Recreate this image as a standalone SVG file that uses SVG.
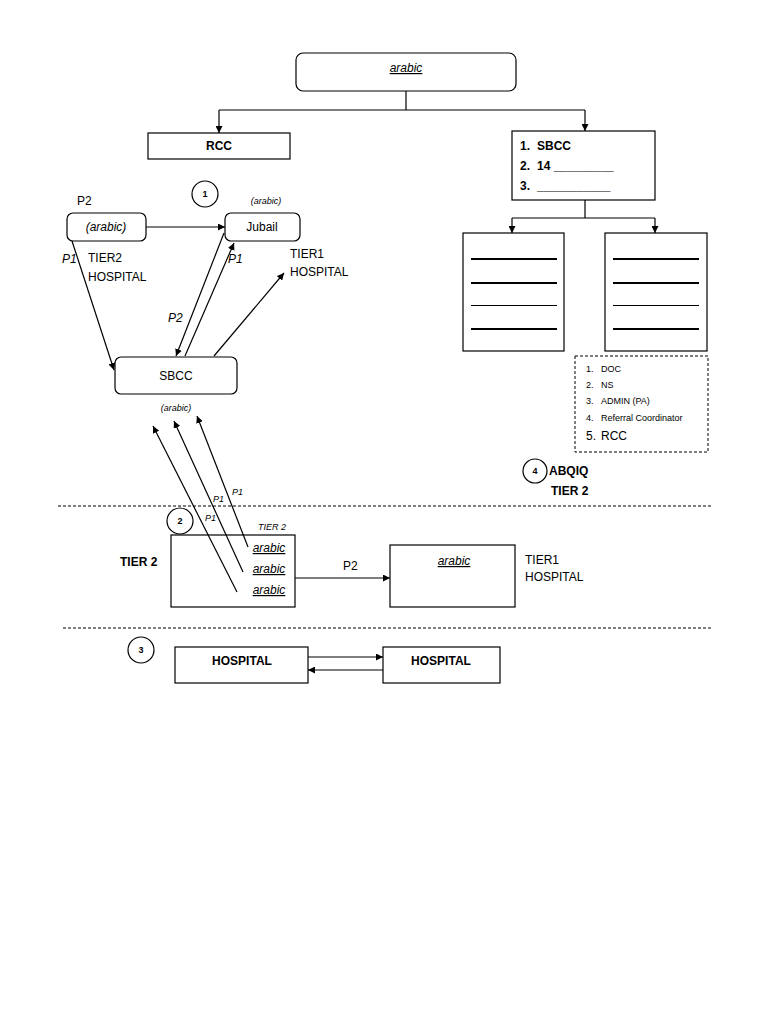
<svg xmlns="http://www.w3.org/2000/svg" width="768" height="1024" viewBox="0 0 768 1024">
<style>
text{font-family:"Liberation Sans",Arial,sans-serif;font-size:12px;fill:#000}
.b{font-weight:bold}
.i{font-style:italic}
.s{font-size:9px}
.box{fill:#fff;stroke:#000;stroke-width:1.2}
.ln{stroke:#000;stroke-width:1.2;fill:none}
.dash{stroke:#000;stroke-width:1;stroke-dasharray:3,2;fill:none}
.circ{fill:#fff;stroke:#000;stroke-width:1.2}
</style>
<defs>
<marker id="ah" viewBox="0 0 10 10" refX="10" refY="5" markerWidth="7" markerHeight="7" orient="auto" markerUnits="userSpaceOnUse">
<path d="M0,0 L10,5 L0,10 z" fill="#000"/>
</marker>
</defs>
<rect width="768" height="1024" fill="#fff"/>

<g id="top">
<rect class="box" x="296" y="53" width="220" height="38" rx="7"/>
<text class="i" x="406" y="72" text-anchor="middle" text-decoration="underline">arabic</text>
</g>
<g id="rcc">
<rect class="box" x="148" y="133" width="142" height="26"/>
<text class="b" x="219" y="150" text-anchor="middle">RCC</text>
</g>
<g id="list">
<rect class="box" x="512" y="131" width="143" height="69"/>
<text class="b" x="520" y="150">1.</text><text class="b" x="537" y="150">SBCC</text>
<text class="b" x="520" y="170">2.</text><text class="b" x="537" y="170">14 _________</text>
<text class="b" x="520" y="190">3.</text><text class="b" x="537" y="190">___________</text>
</g>
<g id="form-left">
<rect class="box" x="463" y="233" width="101" height="118"/>
<line x1="471" y1="259" x2="557" y2="259" stroke="#000" stroke-width="2"/>
<line x1="471" y1="283" x2="557" y2="283" stroke="#000" stroke-width="2"/>
<line x1="471" y1="305.5" x2="557" y2="305.5" stroke="#000" stroke-width="1"/>
<line x1="471" y1="329" x2="557" y2="329" stroke="#000" stroke-width="2"/>
</g>
<g id="form-right">
<rect class="box" x="605" y="233" width="102" height="118"/>
<line x1="613" y1="259" x2="699" y2="259" stroke="#000" stroke-width="2"/>
<line x1="613" y1="283" x2="699" y2="283" stroke="#000" stroke-width="2"/>
<line x1="613" y1="305.5" x2="699" y2="305.5" stroke="#000" stroke-width="1"/>
<line x1="613" y1="329" x2="699" y2="329" stroke="#000" stroke-width="2"/>
</g>
<g id="staff">
<rect x="575" y="356" width="133" height="96" fill="none" stroke="#000" stroke-width="1" stroke-dasharray="3,2"/>
<text class="s" x="586" y="372">1.</text><text class="s" x="601" y="372">DOC</text>
<text class="s" x="586" y="388">2.</text><text class="s" x="601" y="388">NS</text>
<text class="s" x="586" y="404">3.</text><text class="s" x="601" y="404">ADMIN (PA)</text>
<text class="s" x="586" y="421">4.</text><text class="s" x="601" y="421">Referral Coordinator</text>
<text x="586" y="440">5.</text><text x="601" y="440">RCC</text>
</g>
<g id="abqiq">
<circle class="circ" cx="535" cy="471" r="12"/>
<text class="b s" x="535" y="474" text-anchor="middle">4</text>
<text class="b" x="549" y="475">ABQIQ</text>
<text class="b" x="551" y="495">TIER 2</text>
</g>

<g id="sec1">
<circle class="circ" cx="205" cy="194" r="13"/>
<text class="b s" x="205" y="197" text-anchor="middle">1</text>
<text x="77" y="205">P2</text>
</g>
<g id="arabic-node">
<rect class="box" x="67" y="213" width="79" height="28" rx="6"/>
<text class="i" x="106" y="231" text-anchor="middle">(arabic)</text>
<text class="i" x="62" y="263">P1</text>
<text x="88" y="262">TIER2</text>
<text x="88" y="281">HOSPITAL</text>
</g>
<g id="jubail">
<text class="i s" x="266" y="204" text-anchor="middle">(arabic)</text>
<rect class="box" x="225" y="213" width="75" height="28" rx="6"/>
<text x="262" y="231" text-anchor="middle">Jubail</text>
<text class="i" x="228" y="263">P1</text>
<text x="290" y="258">TIER1</text>
<text x="290" y="276">HOSPITAL</text>
</g>
<text class="i" x="168" y="322">P2</text>
<g id="sbcc">
<rect class="box" x="115" y="357" width="122" height="37" rx="6"/>
<text x="176" y="380" text-anchor="middle">SBCC</text>
<text class="i s" x="176" y="411" text-anchor="middle">(arabic)</text>
</g>

<g id="sec2">
<text class="i s" x="232" y="495">P1</text>
<text class="i s" x="213" y="502">P1</text>
<text class="i s" x="205" y="521">P1</text>
<circle class="circ" cx="180" cy="521" r="13"/>
<text class="b s" x="180" y="524" text-anchor="middle">2</text>
<text class="b" x="120" y="566">TIER 2</text>
<text class="i s" x="258" y="530">TIER 2</text>
</g>
<g id="tier2-box">
<rect x="171" y="535" width="124" height="72" fill="none" stroke="#000" stroke-width="1.2"/>
<text class="i" x="269" y="552" text-anchor="middle" text-decoration="underline">arabic</text>
<text class="i" x="269" y="573" text-anchor="middle" text-decoration="underline">arabic</text>
<text class="i" x="269" y="594" text-anchor="middle" text-decoration="underline">arabic</text>
</g>
<text x="343" y="570">P2</text>
<g id="tier1-box">
<rect class="box" x="390" y="545" width="125" height="62"/>
<text class="i" x="454" y="565" text-anchor="middle" text-decoration="underline">arabic</text>
<text x="525" y="564">TIER1</text>
<text x="525" y="581">HOSPITAL</text>
</g>

<g id="sec3">
<circle class="circ" cx="141" cy="650" r="13"/>
<text class="b s" x="141" y="653" text-anchor="middle">3</text>
</g>
<g id="hosp-left">
<rect class="box" x="175" y="647" width="133" height="36"/>
<text class="b" x="242" y="665" text-anchor="middle">HOSPITAL</text>
</g>
<g id="hosp-right">
<rect class="box" x="383" y="647" width="117" height="36"/>
<text class="b" x="441" y="665" text-anchor="middle">HOSPITAL</text>
</g>

<g id="connectors">
<path class="ln" d="M406,91 V110 M219,110 H585"/>
<line class="ln" x1="219" y1="110" x2="219" y2="133" marker-end="url(#ah)"/>
<line class="ln" x1="585" y1="110" x2="585" y2="131" marker-end="url(#ah)"/>
<path class="ln" d="M585,200 V218 M512,218 H655"/>
<line class="ln" x1="512" y1="218" x2="512" y2="233" marker-end="url(#ah)"/>
<line class="ln" x1="655" y1="218" x2="655" y2="233" marker-end="url(#ah)"/>
<line class="ln" x1="146" y1="227" x2="225" y2="227" marker-end="url(#ah)"/>
<line class="ln" x1="72" y1="241" x2="114" y2="370" marker-end="url(#ah)"/>
<line class="ln" x1="224" y1="233" x2="176" y2="356" marker-end="url(#ah)"/>
<line class="ln" x1="185" y1="356" x2="234" y2="243" marker-end="url(#ah)"/>
<line class="ln" x1="214" y1="356" x2="284" y2="273" marker-end="url(#ah)"/>
<line class="ln" x1="237" y1="592" x2="153" y2="426" marker-end="url(#ah)"/>
<line class="ln" x1="243" y1="572" x2="174" y2="421" marker-end="url(#ah)"/>
<line class="ln" x1="248" y1="547" x2="197" y2="416" marker-end="url(#ah)"/>
<line class="ln" x1="295" y1="578" x2="390" y2="578" marker-end="url(#ah)"/>
<line class="ln" x1="308" y1="657" x2="383" y2="657" marker-end="url(#ah)"/>
<line class="ln" x1="383" y1="670" x2="308" y2="670" marker-end="url(#ah)"/>
<line class="dash" x1="58" y1="506" x2="712" y2="506"/>
<line class="dash" x1="63" y1="628" x2="712" y2="628"/>
</g>
</svg>
